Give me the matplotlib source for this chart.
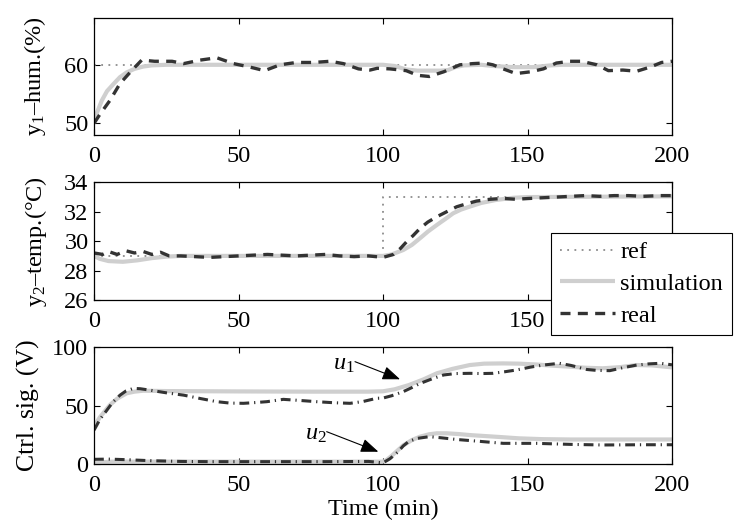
import matplotlib

matplotlib.use("Agg")
import matplotlib.pyplot as plt
from matplotlib.lines import Line2D

# ---- data ----
t_y1_sim = [0, 1, 2.7, 4.5, 6.7, 9, 11.3, 14, 17, 20, 25, 100, 104, 108, 112, 120, 122.5, 125, 128,
            134, 138, 145, 152, 158, 162, 200]
y1_sim = [50, 51.8, 53.9, 55.5, 56.7, 57.9, 58.7, 59.3, 59.7, 59.9, 60, 60, 59.8, 59.2, 59.0, 59.0, 59.1,
          59.6, 59.9, 60, 59.8, 59.6, 59.6, 59.9, 60, 60]
t_y1_real = [0, 2, 5.5, 9, 13, 16.5, 21, 27, 31, 36.7, 42.5, 48.3, 54, 59, 64.4, 70, 76, 81.7, 86.3, 91.5,
             95.5, 98, 102.4, 108, 112, 116, 121, 126.6, 131, 135, 138, 141.6, 146, 151, 155.5, 160, 164.7,
             168.7, 174, 178, 183, 187.8, 192.4, 196.4, 200]
y1_real = [50, 51.5, 53.9, 56.8, 59, 60.8, 60.6, 60.6, 60.2, 60.8, 61.2, 60.2, 59.6, 59.0, 60.0, 60.4, 60.4,
           60.6, 60.2, 59.3, 59.1, 59.4, 59.3, 59.0, 58.2, 58.0, 58.8, 60.0, 60.2, 60.3, 60.0, 59.3, 58.5,
           58.8, 59.3, 60.3, 60.6, 60.6, 60.0, 59.0, 59.1, 58.9, 59.6, 60.4, 60.6]
t_y1_ref = [0, 200]
y1_ref = [60, 60]

t_y2_ref = [0, 100, 100, 200]
y2_ref = [29, 29, 33, 33]
t_y2_sim = [0, 2, 5, 10, 15, 20, 25, 30, 100, 103, 107, 110, 112.8, 115.5, 118.6, 121.5, 124.3, 127, 130,
            134, 139, 145, 150, 200]
y2_sim = [29.0, 28.8, 28.65, 28.6, 28.7, 28.85, 28.95, 29.0, 29.0, 29.1, 29.4, 29.75, 30.2, 30.65, 31.1,
          31.5, 31.9, 32.15, 32.35, 32.6, 32.8, 32.95, 33.0, 33.05]
t_y2_real = [0, 3, 5, 8, 11, 14, 17, 20, 23, 26, 30, 35, 40, 45, 50, 55, 60, 65, 70, 75, 80, 85, 90, 95,
             100, 103.6, 106, 108.2, 110.5, 112.8, 115.5, 118.6, 122, 125.5, 129, 132.4, 137, 141.6, 146,
             150, 155, 160, 165, 170, 175, 180, 185, 190, 196, 200]
y2_real = [29.2, 29.1, 29.3, 29.1, 29.35, 29.2, 29.3, 29.1, 29.25, 29.0, 29.0, 28.95, 28.9, 28.95, 29.0,
           29.05, 29.1, 29.05, 29.0, 29.05, 29.1, 29.0, 28.95, 29.0, 28.9, 29.1, 29.5, 29.97, 30.4, 30.87,
           31.3, 31.66, 32.0, 32.34, 32.55, 32.73, 32.85, 32.91, 32.85, 32.9, 32.95, 33.0, 33.05, 33.1,
           33.05, 33.1, 33.1, 33.05, 33.1, 33.1]

t_u1_sim = [0, 2, 5.5, 8, 11.3, 14, 17, 25, 50, 75, 95, 100, 104, 109, 114, 118.6, 124, 130, 135, 141.6,
            147, 153, 159, 164.7, 170, 176, 182, 187.8, 193, 200]
u1_sim = [32, 40, 50.6, 56, 60.6, 62, 62.8, 62.5, 62.2, 62, 62, 62.3, 64, 67.7, 72.5, 77.7, 81.5, 84.8, 86,
          86.2, 86, 85.3, 84.2, 83.4, 82.5, 82, 83, 84.8, 84.5, 82.8]
t_u1_real = [0, 2, 4.4, 6.5, 9, 11, 13.6, 16, 19, 25, 31, 37, 42.5, 47, 51.7, 55, 59.8, 65.5, 71, 77, 83,
             88.6, 93, 97.8, 100, 103, 107, 110, 112.8, 117, 121, 125, 130, 134, 138, 142, 146, 151, 155.5,
             161, 165, 170.5, 174, 178.5, 183, 187.8, 192, 196, 200]
u1_real = [29, 38, 46, 53, 59, 62.5, 64.8, 64.5, 63.4, 61, 59, 56, 53.4, 52.2, 52, 52.5, 53.4, 55.4, 54.5,
           53.4, 52.5, 52, 53.5, 56.3, 56.5, 58.5, 62, 65.5, 69, 73, 76.3, 77.5, 77.7, 77.5, 77.7, 79, 80.5,
           83, 84.8, 86.3, 84.5, 81, 80.2, 80, 82.5, 84.8, 85.8, 86.3, 85]
t_u2_sim = [0, 3, 6, 100, 101, 103, 105, 107, 110, 112.8, 116, 118.6, 122, 126, 130, 140, 147, 155, 165, 200]
u2_sim = [0.5, 1.5, 2.0, 2.0, 3, 7, 11.5, 16, 20.5, 23.4, 25.5, 26.3, 26.3, 25.7, 24.8, 23.2, 22.0, 21.3,
          21, 21]
t_u2_real = [0, 5, 10, 15, 20, 30, 40, 60, 80, 95, 98, 100, 102.4, 105, 107, 109, 112, 116, 120, 125.5,
             133, 141.6, 153, 165, 176, 190, 200]
u2_real = [4, 4.2, 3.8, 3.3, 2.8, 2.2, 2.0, 2.0, 2.0, 2.2, 1.5, 1.0, 4.5, 10, 15.5, 19.5, 22, 23.4, 22.5,
           21, 19.5, 17.7, 17.7, 16.8, 16.3, 16.5, 16.5]

x_ticks = [0, 50, 100, 150, 200]

# ---- style ----
plt.rcParams["font.family"] = ["Liberation Serif", "DejaVu Serif"]
plt.rcParams["mathtext.fontset"] = "custom"
plt.rcParams["mathtext.rm"] = "Liberation Serif"
plt.rcParams["mathtext.it"] = "Liberation Serif:italic"
FS = 17.5

REF = dict(color="#8c8c8c", lw=1.3, linestyle=(0, (1, 3)))
SIM = dict(color="#cfcfcf", lw=3.0, linestyle="-", solid_capstyle="butt")
REAL = dict(color="#333333", lw=2.4, linestyle=(0, (3.0, 2.2)))
REAL_DD = dict(color="#333333", lw=2.2, linestyle=(0, (3.2, 1.6, 0.4, 1.6)))

fig = plt.figure(figsize=(7.51, 5.2), dpi=100)
left, width = 0.1252, 0.7696
ax1 = fig.add_axes([left, 0.7404, width, 0.2250])
ax2 = fig.add_axes([left, 0.4230, width, 0.2263])
ax3 = fig.add_axes([left, 0.1077, width, 0.2244])

for ax in (ax1, ax2, ax3):
    ax.set_xlim(0, 200)
    ax.set_xticks(x_ticks)
    ax.tick_params(direction="in", top=True, right=True, length=4, width=0.8, labelsize=FS)
    ax.tick_params(axis="x", pad=8)
    ax.tick_params(axis="y", pad=4)
    for s in ax.spines.values():
        s.set_linewidth(0.9)

# humidity
ax1.plot(t_y1_ref, y1_ref, **REF)
ax1.plot(t_y1_sim, y1_sim, **SIM)
ax1.plot(t_y1_real, y1_real, **REAL)
ax1.set_ylim(48, 68)
ax1.set_yticks([50, 60])
ax1.set_ylabel("y$_1$–hum.(%)", fontsize=FS)
ax1.yaxis.set_label_coords(-0.08, 0.5)

# temperature
ax2.plot(t_y2_ref, y2_ref, **REF)
ax2.plot(t_y2_sim, y2_sim, **SIM)
ax2.plot(t_y2_real, y2_real, **REAL)
ax2.set_ylim(26, 34)
ax2.set_yticks([26, 28, 30, 32, 34])
ax2.set_ylabel("y$_2$–temp.(°C)", fontsize=FS)
ax2.yaxis.set_label_coords(-0.078, 0.5)

# control signals
ax3.plot(t_u1_sim, u1_sim, **SIM)
ax3.plot(t_u1_real, u1_real, **REAL_DD)
ax3.plot(t_u2_sim, u2_sim, **SIM)
ax3.plot(t_u2_real, u2_real, **REAL_DD)
ax3.set_ylim(0, 100)
ax3.set_yticks([0, 50, 100])
ax3.set_ylabel("Ctrl. sig. (V)", fontsize=FS + 1)
ax3.yaxis.set_label_coords(-0.093, 0.5)
ax3.set_xlabel("Time (min)", fontsize=FS, labelpad=2)

arrow = dict(arrowstyle="-|>,head_length=0.9,head_width=0.35", color="k", lw=0.8,
             mutation_scale=12, shrinkA=0, shrinkB=0)
ax3.annotate("", xy=(105.9, 72.6), xytext=(90.3, 87.7), arrowprops=arrow)
ax3.text(90.3, 85.0, r"$u_{\mathit{1}}$", fontsize=FS, ha="right", va="center")
ax3.annotate("", xy=(98.4, 10.5), xytext=(80.5, 27.7), arrowprops=arrow)
ax3.text(80.5, 25.0, r"$u_{\mathit{2}}$", fontsize=FS, ha="right", va="center")

handles = [Line2D([], [], **REF), Line2D([], [], **SIM), Line2D([], [], **REAL)]
leg = fig.legend(handles, ["ref", "simulation", "real"], loc="upper left",
                 bbox_to_anchor=(0.7337, 0.5525), borderaxespad=0, fontsize=FS,
                 fancybox=False, edgecolor="k", framealpha=1, handlelength=2.3,
                 handletextpad=0.2, borderpad=0.35, labelspacing=0.4)
leg.get_frame().set_linewidth(0.8)

fig.savefig("out.png", dpi=100)
